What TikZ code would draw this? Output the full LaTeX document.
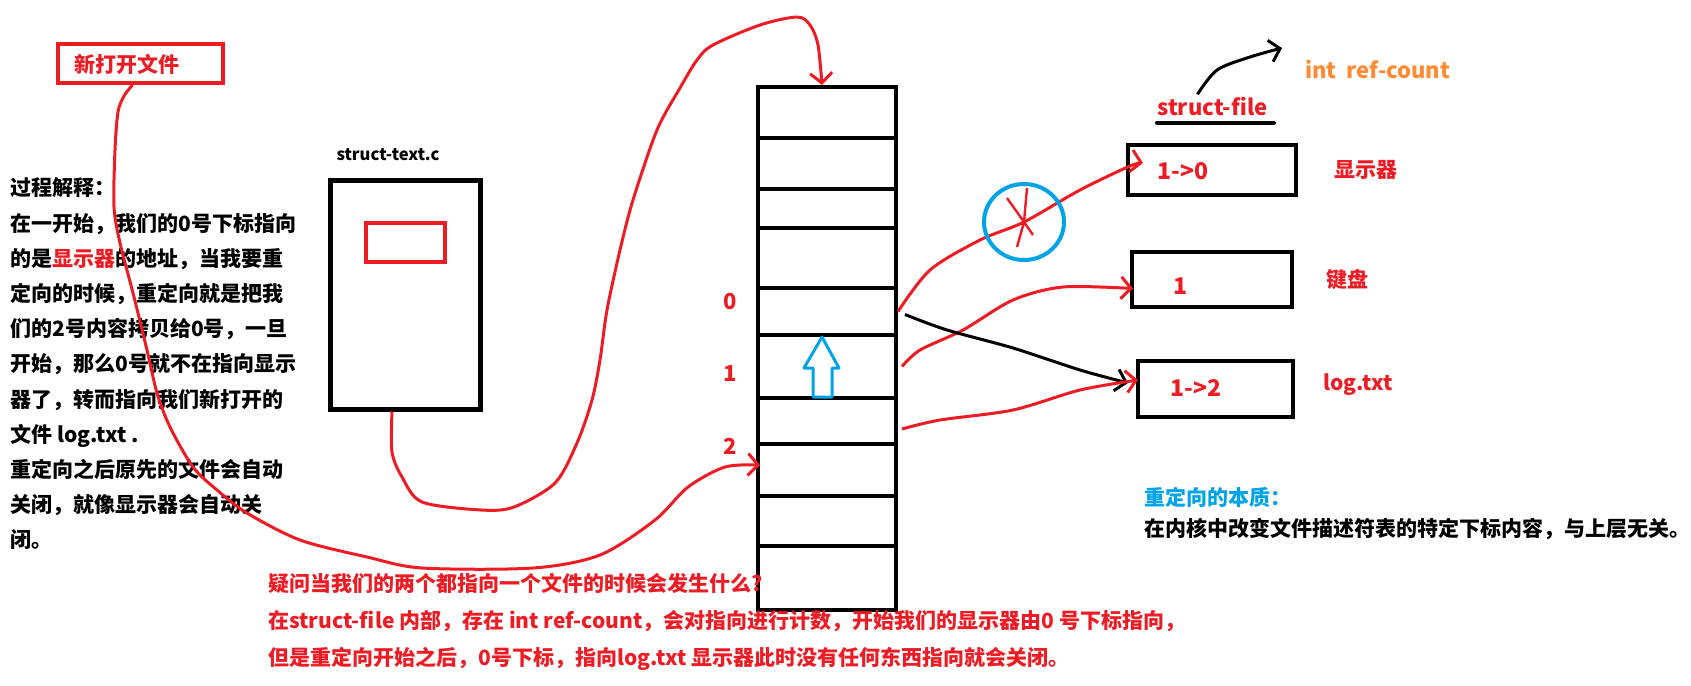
\documentclass[tikz,border=0pt]{standalone}
\usepackage{fontspec}
\setmainfont{Noto Sans CJK SC}
\usetikzlibrary{positioning,arrows.meta,calc,fit}
\definecolor{pred}{HTML}{ED1C24}
\definecolor{pblue}{HTML}{00A2E8}
\definecolor{porange}{HTML}{FF8A33}
\tikzset{
    every node/.style={font=\bfseries\fontsize{10.5}{17.6}\selectfont,inner sep=0pt},
    cell/.style={draw,line width=2pt},
    filebox/.style={draw,line width=2pt},
    redbox/.style={draw=pred,line width=2pt},
    para/.style={anchor=north west,align=left},
    tag/.style={anchor=west,text=pred},
    idx/.style={text=pred,font=\bfseries\fontsize{11}{13}\selectfont},
    count/.style={anchor=west,text=pred,font=\bfseries\fontsize{11.5}{13}\selectfont},
    link/.style={draw=pred,line width=1.5pt,line join=round,->,>={Straight Barb[length=5pt,width=11pt]}},
    blink/.style={link,draw=black}
}

\begin{document}
\begin{tikzpicture}[x=0.5pt,y=-0.5pt]
    \useasboundingbox (0,0) rectangle (1691,685);

    % process side
    \node[redbox,minimum width=82.5pt,minimum height=19.5pt] (newfile) at (140.5,63.5) {};
    \node[text=pred,anchor=west] at (74,64) {新打开文件};
    \node[font=\bfseries\fontsize{8.3}{10}\selectfont] (stitle) at (388,155) {struct-text.c};
    \node[filebox,line width=2.5pt,minimum width=75pt,minimum height=114.5pt] (stext) at (405,294.5) {};
    \node[redbox,minimum width=39.5pt,minimum height=19.5pt] (slot) at (405.5,242.5) {};

    \node[para] (story) at (10,177.5) {过程解释：\\
        在一开始，我们的0号下标指向\\
        的是{\color{pred}显示器}的地址，当我要重\\
        定向的时候，重定向就是把我\\
        们的2号内容拷贝给0号，一旦\\
        开始，那么0号就不在指向显示\\
        器了，转而指向我们新打开的\\
        文件 log.txt .\\
        重定向之后原先的文件会自动\\
        关闭，就像显示器会自动关\\
        闭。};

    % fd table
    \foreach \t/\b [count=\i from 0] in {87/138,138/189,189/228,228/288,288/335,335/398,398/444,444/496,496/546,546/610}
        \node[cell,fit={(758,\t) (896,\b)}] (r\i) {};
    \node[idx] (i0) at (730,302) {0};
    \node[idx] (i1) at (730,374) {1};
    \node[idx] (i2) at (730,446) {2};
    \draw[pblue,line width=1.5pt,line join=round] (822,337) -- (804,368) -- (813,368) -- (813,397)
        -- (832,397) -- (832,368) -- (839,368) -- cycle;

    % struct file side
    \node[anchor=west,text=pred,font=\bfseries\fontsize{11}{13}\selectfont] (sfile) at (1157,107) {struct-file};
    \draw[line width=2pt,line cap=round] ($(sfile.south west)+(0,6)$) -- ($(sfile.south east)+(6,6)$);
    \node[anchor=west,text=porange,font=\bfseries\fontsize{11}{13}\selectfont] (refcnt) at (1305,70) {int\ \ ref-count};
    \coordinate (cnt-tip) at (1282,48);

    \node[filebox,minimum width=84pt,minimum height=25pt] (f1) at (1212,170) {};
    \node[filebox,minimum width=80pt,minimum height=27.5pt] (f2) at (1212,279.5) {};
    \node[filebox,minimum width=77.5pt,minimum height=28pt] (f3) at (1215.5,389) {};
    \node[count] at (1157,171) {1->0};
    \node[count] at (1173,286) {1};
    \node[count] at (1170,388) {1->2};
    \node[tag,right=18pt of f1] {显示器};
    \node[tag,right=16pt of f2] {键盘};
    \node[tag,right=14pt of f3,yshift=2pt] {log.txt};

    \node[para,font=\bfseries\fontsize{10.5}{15.5}\selectfont] (gist) at (1144,486.5)
        {{\color{pblue}重定向的本质：}\\在内核中改变文件描述符表的特定下标内容，与上层无关。};
    \node[para,text=pred,font=\bfseries\fontsize{10.5}{18.5}\selectfont] (question) at (268,572.5)
        {疑问当我们的两个都指向一个文件的时候会发生什么?\\
        在struct-file 内部，存在 int ref-count，会对指向进行计数，开始我们的显示器由0 号下标指向，\\
        但是重定向开始之后，0号下标，指向log.txt 显示器此时没有任何东西指向就会关闭。};

    % connectors
    \draw[link] plot[smooth,tension=0.5] coordinates {($(newfile.south)+(-8,0)$) (124,96) (118,112) (115,150)
        (114,207) (120,243) (133,293) (147,350) (157,393) (170,427) (193,467) (217,490) (247,513)
        (300,540) (367,557) (422,568) (533,568) (600,555) (655,520) (688,487) (725,467) ($(r7.west)+(4,-5)$)};
    \draw[link] plot[smooth,tension=0.5] coordinates {($(stext.south)+(-13,0)$) (392,452) (402,477) (422,502)
        (481,510) (514,507) (555,483) (577,443) (592,400) (600,360) (607,310) (620,250) (633,200)
        (657,130) (680,88) (697,60) (713,45) (760,25) (797,17) (810,25) (818,45) ($(r0.north)+(-5,0)$)};

    \draw[link] plot[smooth,tension=0.5] coordinates {(r4.east) (930,270) (980,240) (1024,222) (1080,190)
        (1130,166) ($(f1.west)+(17,-7)$)};
    \draw[link] plot[smooth,tension=0.5] coordinates {($(r5.east)+(4,0)$) (920,350) (963,330) (1013,300)
        (1063,287) ($(f2.west)+(3,9)$)};
    \draw[blink] plot[smooth,tension=0.5] coordinates {($(r4.east)+(7,3)$) (947,330) (1013,348) (1080,370)
        ($(f3.west)+(-8,-6)$)};
    \draw[link] plot[smooth,tension=0.5] coordinates {($(r6.east)+(4,8)$) (940,420) (1013,410) (1080,390)
        ($(f3.west)+(2,-9)$)};
    \draw[blink] plot[smooth,tension=0.5] coordinates {($(sfile.north)+(-15,-3)$) (1217,70) (1250,57) (cnt-tip)};

    % crossed out link
    \coordinate (cut) at (1024,222);
    \draw[pblue,line width=2pt] (cut) ellipse [x radius=20pt,y radius=19pt];
    \draw[pred,line width=1.2pt] (cut) -- +(3,-34) (cut) -- +(-7,25) (cut) -- +(-17,-24) (cut) -- +(9,13);
\end{tikzpicture}
\end{document}
